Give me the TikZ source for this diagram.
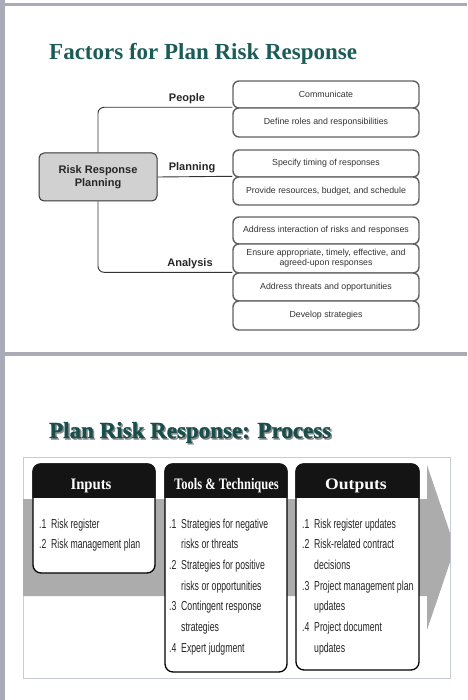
\documentclass[tikz,border=0pt]{standalone}
\usepackage{fontspec}
\usepackage{graphicx}
\setmainfont{Liberation Sans}
\newfontfamily\titfont{Liberation Serif}
\newfontfamily\titboldfont[FakeBold=1.2]{Liberation Serif}
\newfontfamily\hdrfont{Liberation Serif}
\newfontfamily\condfont[FakeStretch=0.67]{Liberation Sans}
\definecolor{teal1}{RGB}{28,92,88}
\definecolor{barc}{RGB}{169,172,182}
\definecolor{bandc}{RGB}{172,172,172}
\definecolor{framec}{RGB}{200,205,212}
\newcommand\numit[1]{\makebox[12pt][l]{#1}}
\newcommand\contit{\hspace*{12pt}}
\begin{document}
\begin{tikzpicture}[x=1pt,y=-1pt,
 conn/.style={draw=black!80,line width=0.9pt,rounded corners=6pt},
 fbox/.style={draw=black!62,line width=1.4pt,rounded corners=6pt,fill=white,minimum width=186pt,inner sep=0pt,align=center,font=\fontsize{8.8}{10}\selectfont,text=black!80},
 lbl/.style={font=\bfseries\fontsize{11}{13}\selectfont,text=black!85,inner sep=0pt},
 rrpbox/.style={draw=black!80,fill=black!18,line width=1pt,rounded corners=5pt,minimum width=118pt,minimum height=48pt,inner sep=0pt,align=center,font=\bfseries\fontsize{11}{12.5}\selectfont,text=black!85},
 ttl/.style={font=\titfont\bfseries\fontsize{23}{26}\selectfont,text=teal1,anchor=base west,inner sep=0pt},
 pbox/.style={draw=black,line width=1.3pt,fill=white,rounded corners=8pt,inner sep=0pt},
 hdr/.style={text=white,font=\hdrfont\bfseries\fontsize{16}{18}\selectfont,anchor=base,inner sep=0pt},
 body/.style={font=\condfont\fontsize{13}{20.7}\selectfont,text=black!85,anchor=base west,inner sep=0pt}]
\useasboundingbox (0,0) rectangle (467,700);
% page decoration
\fill[barc] (0,0) rectangle (4.5,700);
\fill[barc] (0,3) rectangle (467,6);
\fill[barc] (0,352) rectangle (467,356);

% ---------- Slide 1 ----------
\node[ttl] (t1) at (49,60) {Factors for Plan Risk Response};

\node[rrpbox] (rrp) at (98,177) {Risk Response\\Planning};

\node[fbox,minimum height=27pt] (comm) at (326,94.5) {Communicate};
\node[fbox,minimum height=29pt] (def) at (326,122.5) {Define roles and responsibilities};
\node[fbox,minimum height=27pt] (spec) at (326,163.5) {Specify timing of responses};
\node[fbox,minimum height=28pt] (prov) at (326,191) {Provide resources, budget, and schedule};
\node[fbox,minimum height=27pt] (inter) at (326,230.5) {Address interaction of risks and responses};
\node[fbox,minimum height=29pt] (ens) at (326,258.5) {Ensure appropriate, timely, effective, and\\agreed-upon responses};
\node[fbox,minimum height=28pt] (thr) at (326,287) {Address threats and opportunities};
\node[fbox,minimum height=29pt] (dev) at (326,315.5) {Develop strategies};

\draw[conn] (rrp.north) |- (def.north west);
\draw[conn] (rrp.east) -- (prov.north west);
\draw[conn] (rrp.south) |- (thr.north west);

\node[lbl] (lp) at (187,99) {People};
\node[lbl] (lpl) at (192,168) {Planning};
\node[lbl] (la) at (190,264) {Analysis};

% ---------- Slide 2 ----------
\node[ttl,font=\titboldfont\bfseries\fontsize{23}{26}\selectfont,text=black!45] (t2s) at (50.5,439.5) {Plan Risk Response: Process};
\node[ttl,font=\titboldfont\bfseries\fontsize{23}{26}\selectfont,text=teal1!85!black] (t2) at (49,438) {Plan Risk Response: Process};

\node[draw=framec,line width=0.8pt,fill=white,minimum width=427pt,minimum height=221pt,inner sep=0pt] (frame) at (236.5,567.5) {};
\begin{scope}
\clip (frame.south west) rectangle (frame.north east);
\fill[bandc] (23,499) -- (427,499) -- (427,465) -- (455,547.5) -- (427,630) -- (427,596) -- (23,596) -- cycle;
\end{scope}

\node[pbox,minimum width=122pt,minimum height=109pt] (in) at (94,518.5) {};
\node[pbox,minimum width=122pt,minimum height=208pt] (tt) at (226,568) {};
\node[pbox,minimum width=123pt,minimum height=206pt] (out) at (357.5,567) {};
\foreach \b in {in,tt,out}{
  \begin{scope}
  \clip[rounded corners=8pt] (\b.south west) rectangle (\b.north east);
  \fill[black!92] (\b.north west) rectangle ([yshift=-35pt]\b.north east);
  \end{scope}
}
\node[hdr] (inh) at (91,489) {\scalebox{0.92}[1]{Inputs}};
\node[hdr] (tth) at (226.5,489) {\scalebox{0.78}[1]{Tools \& Techniques}};
\node[hdr] (outh) at (356,489) {\scalebox{1.1}[1]{Outputs}};

\node[body] (inb) at (39,528) {\begin{tabular}[t]{@{}l@{}}
\numit{.1}Risk register\\
\numit{.2}Risk management plan
\end{tabular}};
\node[body] (ttb) at (169,528) {\begin{tabular}[t]{@{}l@{}}
\numit{.1}Strategies for negative\\
\contit risks or threats\\
\numit{.2}Strategies for positive\\
\contit risks or opportunities\\
\numit{.3}Contingent response\\
\contit strategies\\
\numit{.4}Expert judgment
\end{tabular}};
\node[body] (outb) at (302,528) {\begin{tabular}[t]{@{}l@{}}
\numit{.1}Risk register updates\\
\numit{.2}Risk-related contract\\
\contit decisions\\
\numit{.3}Project management plan\\
\contit updates\\
\numit{.4}Project document\\
\contit updates
\end{tabular}};
\end{tikzpicture}
\end{document}
